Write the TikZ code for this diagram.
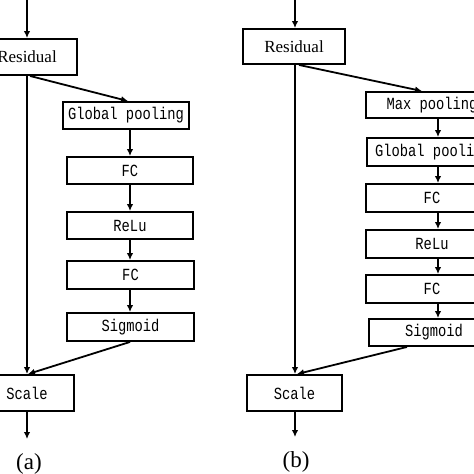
\documentclass[tikz,border=0pt]{standalone}
\usepackage{fontspec}
\setmainfont{Liberation Serif}
\newfontfamily\monof[FakeStretch=0.81]{Liberation Mono}
\usetikzlibrary{arrows.meta}
\begin{document}
\begin{tikzpicture}[x=1pt,y=-1pt,
  box/.style={draw,line width=1.9pt,inner sep=0pt,fill=white},
  mono/.style={box,font=\monof\fontsize{17}{19}\selectfont},
  ser/.style={box,font=\fontsize{17}{19}\selectfont},
  conn/.style={line width=1.8pt,-{Latex[length=7pt,width=6.5pt]}},
  lab/.style={font=\fontsize{23}{25}\selectfont,inner sep=0pt}]
\useasboundingbox (0,0) rectangle (474,474);
\clip (0,0) rectangle (474,474);
% ---------- panel (a)
\coordinate (ina) at (27,-2);
\node[ser, minimum width=100pt, minimum height=36pt] (resa) at (27,57) {Residual};
\node[mono, minimum width=126pt, minimum height=27pt] (gpa) at (126,115.5) {Global pooling};
\node[mono, minimum width=126pt, minimum height=27pt] (fc1a) at (130,170.5) {FC};
\node[mono, minimum width=126pt, minimum height=27pt] (relua) at (130,225.5) {ReLu};
\node[mono, minimum width=127pt, minimum height=28pt] (fc2a) at (130.5,275) {FC};
\node[mono, minimum width=127pt, minimum height=28pt] (siga) at (130.5,327) {Sigmoid};
\node[mono, minimum width=94pt, minimum height=36pt] (scalea) at (27,393) {Scale};
\coordinate (outa) at (27,439);
\node[lab] (laba) at (29,464) {(a)};
\draw[conn] (ina) -- (resa.north);
\draw[conn] ([xshift=3pt]resa.south) -- ([xshift=2pt]gpa.north);
\draw[conn] ([xshift=4pt]gpa.south) -- (fc1a.north);
\draw[conn] (fc1a.south) -- (relua.north);
\draw[conn] (relua.south) -- ([xshift=-0.5pt]fc2a.north);
\draw[conn] ([xshift=-0.5pt]fc2a.south) -- ([xshift=-0.5pt]siga.north);
\draw[conn] (resa.south) -- (scalea.north);
\draw[conn] ([xshift=-0.5pt]siga.south) -- ([xshift=1pt]scalea.north);
\draw[conn] (scalea.south) -- (outa);
% ---------- panel (b)
\coordinate (inb) at (295,-2);
\node[ser, minimum width=102pt, minimum height=35pt] (resb) at (294,46.5) {Residual};
\node[mono, minimum width=132pt, minimum height=26pt] (maxb) at (432,105) {Max pooling};
\node[mono, minimum width=132pt, minimum height=28pt] (gpb) at (433,152) {Global pooling};
\node[mono, minimum width=132pt, minimum height=28pt] (fc1b) at (432,198) {FC};
\node[mono, minimum width=132pt, minimum height=28pt] (relub) at (432,244) {ReLu};
\node[mono, minimum width=132pt, minimum height=28pt] (fc2b) at (432,289) {FC};
\node[mono, minimum width=130pt, minimum height=27pt] (sigb) at (434,332.5) {Sigmoid};
\node[mono, minimum width=95pt, minimum height=36pt] (scaleb) at (294.5,393) {Scale};
\coordinate (outb) at (295,437);
\node[lab] (labb) at (296,462) {(b)};
\draw[conn] (inb) -- ([xshift=1pt]resb.north);
\draw[conn] ([xshift=5pt]resb.south) -- ([xshift=-10pt]maxb.north);
\draw[conn] ([xshift=6pt]maxb.south) -- ([xshift=5pt]gpb.north);
\draw[conn] ([xshift=5pt]gpb.south) -- ([xshift=6pt]fc1b.north);
\draw[conn] ([xshift=6pt]fc1b.south) -- ([xshift=6pt]relub.north);
\draw[conn] ([xshift=6pt]relub.south) -- ([xshift=6pt]fc2b.north);
\draw[conn] ([xshift=6pt]fc2b.south) -- ([xshift=4pt]sigb.north);
\draw[conn] ([xshift=1pt]resb.south) -- ([xshift=0.5pt]scaleb.north);
\draw[conn] ([xshift=-27pt]sigb.south) -- ([xshift=2.5pt]scaleb.north);
\draw[conn] ([xshift=0.5pt]scaleb.south) -- (outb);
\end{tikzpicture}
\end{document}
